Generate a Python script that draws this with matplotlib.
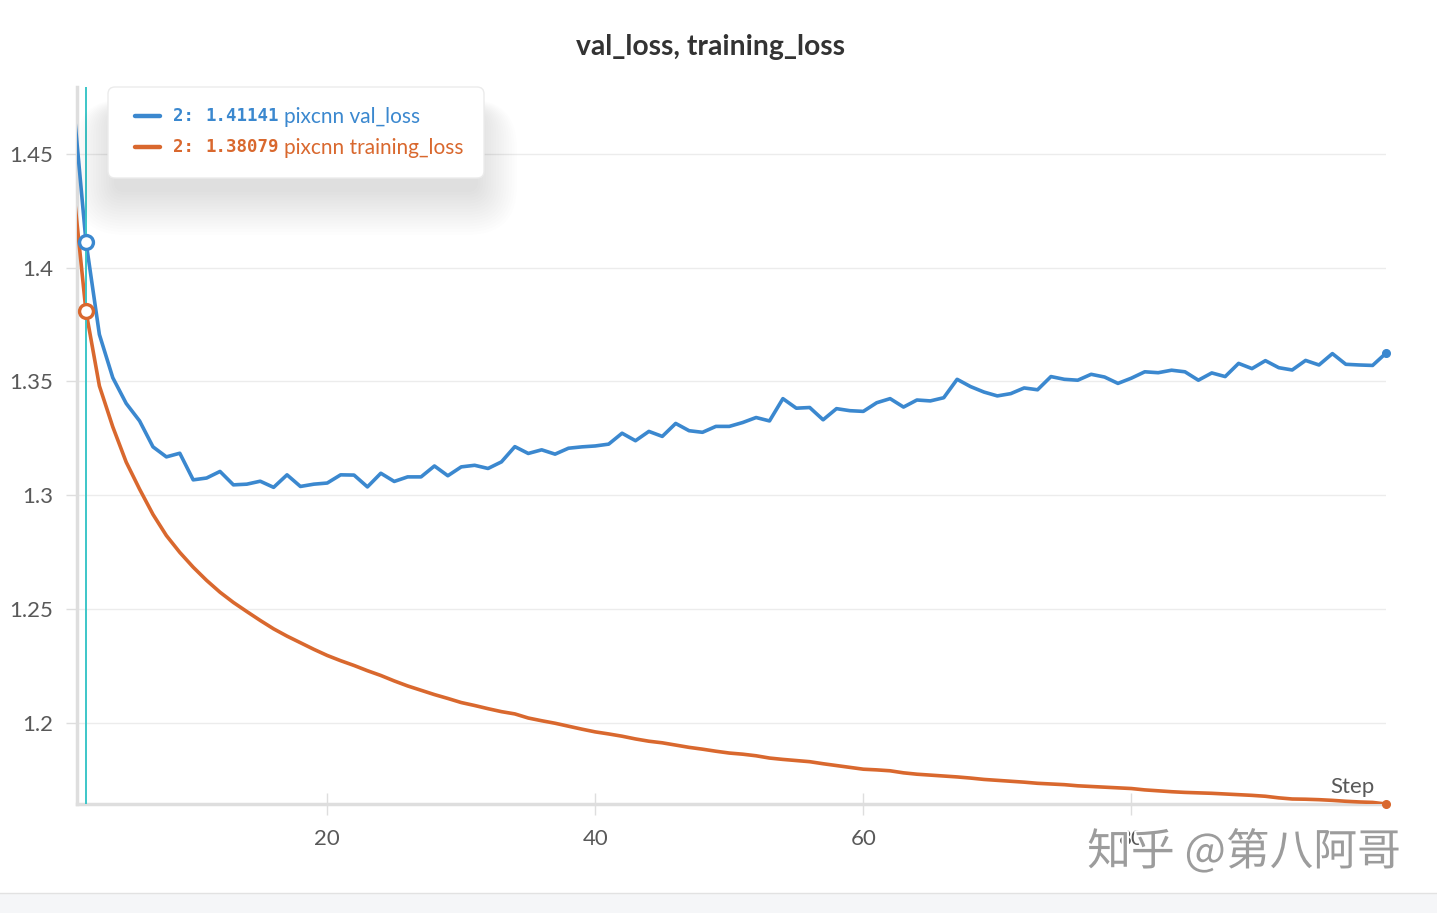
import matplotlib
matplotlib.use("Agg")
import matplotlib.pyplot as plt
import matplotlib.patheffects as pe
from matplotlib.patches import FancyBboxPatch, Rectangle
from matplotlib.lines import Line2D
from matplotlib.transforms import IdentityTransform

# ---------------- data ----------------
steps = list(range(1, 100))

val_loss = [
    1.4760, 1.41141, 1.3706, 1.3516, 1.3403, 1.3326, 1.3212, 1.3168, 1.3184, 1.3067,
    1.3075, 1.3104, 1.3045, 1.3048, 1.3061, 1.3034, 1.3089, 1.3038, 1.3048, 1.3053,
    1.3089, 1.3088, 1.3036, 1.3096, 1.3060, 1.3080, 1.3080, 1.3128, 1.3085, 1.3124,
    1.3131, 1.3117, 1.3146, 1.3213, 1.3183, 1.3199, 1.3180, 1.3206, 1.3212, 1.3216,
    1.3224, 1.3272, 1.3239, 1.3280, 1.3258, 1.3315, 1.3283, 1.3276, 1.3302, 1.3302,
    1.3319, 1.3341, 1.3326, 1.3424, 1.3382, 1.3385, 1.3331, 1.3380, 1.3371, 1.3368,
    1.3406, 1.3424, 1.3387, 1.3418, 1.3414, 1.3428, 1.3509, 1.3477, 1.3453, 1.3436,
    1.3446, 1.3471, 1.3463, 1.3521, 1.3509, 1.3505, 1.3531, 1.3519, 1.3491, 1.3514,
    1.3542, 1.3538, 1.3549, 1.3542, 1.3505, 1.3537, 1.3521, 1.3579, 1.3556, 1.3591,
    1.3560, 1.3550, 1.3592, 1.3572, 1.3622, 1.3575, 1.3572, 1.3570, 1.3624,
]

training_loss = [
    1.4385, 1.38079, 1.3480, 1.3300, 1.3145, 1.3026, 1.2915, 1.2822, 1.2748, 1.2683,
    1.2625, 1.2573, 1.2528, 1.2488, 1.2449, 1.2412, 1.2380, 1.2351, 1.2322, 1.2295,
    1.2272, 1.2251, 1.2228, 1.2207, 1.2183, 1.2161, 1.2142, 1.2123, 1.2106, 1.2088,
    1.2075, 1.2061, 1.2048, 1.2038, 1.2020, 1.2008, 1.1997, 1.1984, 1.1971, 1.1959,
    1.1950, 1.1940, 1.1928, 1.1918, 1.1911, 1.1901, 1.1891, 1.1883, 1.1874, 1.1866,
    1.1861, 1.1854, 1.1844, 1.1838, 1.1833, 1.1828, 1.1819, 1.1811, 1.1803, 1.1795,
    1.1792, 1.1788, 1.1779, 1.1773, 1.1769, 1.1765, 1.1761, 1.1756, 1.1750, 1.1746,
    1.1742, 1.1738, 1.1733, 1.1730, 1.1727, 1.1722, 1.1719, 1.1716, 1.1713, 1.1710,
    1.1704, 1.1700, 1.1696, 1.1693, 1.1691, 1.1689, 1.1686, 1.1683, 1.1680, 1.1676,
    1.1669, 1.1664, 1.1663, 1.1661, 1.1658, 1.1654, 1.1651, 1.1649, 1.1642,
]

hover_step = 2
x_ticks = [20, 40, 60, 80]
y_ticks = [1.2, 1.25, 1.3, 1.35, 1.4, 1.45]
y_tick_labels = ["1.2", "1.25", "1.3", "1.35", "1.4", "1.45"]
title = "val_loss, training_loss"
series_names = ["pixcnn val_loss", "pixcnn training_loss"]
legend_values = ["1.41141", "1.38079"]

BLUE = "#3b88cf"
ORANGE = "#d9682e"
CYAN = "#3cc6c8"
GRID = "#ececec"
SPINE = "#dedede"
TICKTXT = "#595959"

W, H = 1437, 913
plt.rcParams["font.family"] = ["Lato", "DejaVu Sans"]

fig = plt.figure(figsize=(W / 100, H / 100), dpi=100)
ax = fig.add_axes([77 / W, 1 - 804 / H, (1386 - 77) / W, (804 - 87) / H])

ax.plot(steps, training_loss, color=ORANGE, lw=2.6, solid_joinstyle="round", zorder=3)
ax.plot(steps, val_loss, color=BLUE, lw=2.6, solid_joinstyle="round", zorder=4)

ax.axvline(hover_step, color=CYAN, lw=1.4, zorder=5)
hi = steps.index(hover_step)
ax.plot(hover_step, val_loss[hi], "o", ms=10, mfc="white", mec=BLUE, mew=2.4, zorder=6)
ax.plot(hover_step, training_loss[hi], "o", ms=10, mfc="white", mec=ORANGE, mew=2.4, zorder=6)
ax.plot(steps[-1], val_loss[-1], "o", ms=5.5, color=BLUE, clip_on=False, zorder=6)
ax.plot(steps[-1], training_loss[-1], "o", ms=5.5, color=ORANGE, clip_on=False, zorder=6)

ax.set_xlim(1.33, 99.0)
ax.set_ylim(1.1642, 1.4794)
ax.set_xticks(x_ticks)
ax.set_xticklabels([str(t) for t in x_ticks])
ax.set_yticks(y_ticks)
ax.set_yticklabels(y_tick_labels)

ax.grid(axis="y", color=GRID, lw=1.0, zorder=0)
for s in ["top", "right"]:
    ax.spines[s].set_visible(False)
for s in ["left", "bottom"]:
    ax.spines[s].set_color(SPINE)
    ax.spines[s].set_linewidth(2.5)
ax.tick_params(axis="y", direction="out", length=8, width=1, color=SPINE,
               labelsize=16, labelcolor=TICKTXT, pad=9)
ax.tick_params(axis="x", direction="inout", length=16, width=1, color=SPINE,
               labelsize=16, labelcolor=TICKTXT, pad=10)

# title
fig.text(711 / W, 1 - 47 / H, title, ha="center", va="center", fontsize=20.3,
         fontweight="bold", color="#333333")

# "Step" label
fig.text(1352 / W, 1 - 787 / H, "Step", ha="center", va="center", fontsize=16, color=TICKTXT)

# legend box (pixel coordinates)
T = IdentityTransform()
def P(x, y):
    return x, H - y

bx0, by0, bx1, by1 = 108, 87, 484, 178
for i in range(16):
    spread = i * 2.6
    x0 = bx0 + 6 - spread
    x1 = bx1 - 6 + spread
    y0 = by0 + 24 - spread * 0.3
    y1 = by1 + 14 + spread * 1.1
    sh = FancyBboxPatch(P(x0, y1), x1 - x0, y1 - y0,
                        boxstyle="round,pad=0,rounding_size=%g" % (10 + spread),
                        transform=T, facecolor="#1a2030", edgecolor="none",
                        alpha=0.0075, zorder=7)
    fig.patches.append(sh)
box = FancyBboxPatch(P(bx0, by1), bx1 - bx0, by1 - by0,
                     boxstyle="round,pad=0,rounding_size=7", transform=T,
                     facecolor="white", edgecolor="#ebebeb", lw=1, zorder=8)
fig.patches.append(box)

rows_y = [116, 147]
colors = [BLUE, ORANGE]
for ry, c, val, name in zip(rows_y, colors, legend_values, series_names):
    fig.lines.append(Line2D([135, 160], [H - ry, H - ry], transform=T, color=c, lw=3.2,
                            solid_capstyle="round", zorder=9))
    fig.text(173 / W, 1 - ry / H, "2:", ha="left", va="center", fontsize=12.5,
             family="DejaVu Sans Mono", fontweight="bold", color=c, zorder=9)
    fig.text(205 / W, 1 - ry / H, val, ha="left", va="center", fontsize=12.5,
             family="DejaVu Sans Mono", fontweight="bold", color=c, zorder=9)
    fig.text(284 / W, 1 - (ry + 1) / H, name, ha="left", va="center", fontsize=15,
             color=c, zorder=9)

# bottom strip
fig.patches.append(Rectangle((0, 0), 1, 20 / H, transform=fig.transFigure,
                             facecolor="#f5f6f8", edgecolor="none", zorder=1))
fig.lines.append(Line2D([0, 1], [20 / H, 20 / H], transform=fig.transFigure,
                        color="#e2e2e2", lw=1, zorder=2))

# watermark
fig.text(1244 / W, 1 - 852 / H, "知乎 @第八阿哥", ha="center", va="center", fontsize=31.5,
         family=["Noto Sans CJK SC", "DejaVu Sans"], color="#9c9c9c", zorder=10,
         path_effects=[pe.withStroke(linewidth=3, foreground="white")])

fig.savefig("out.png", dpi=100)
